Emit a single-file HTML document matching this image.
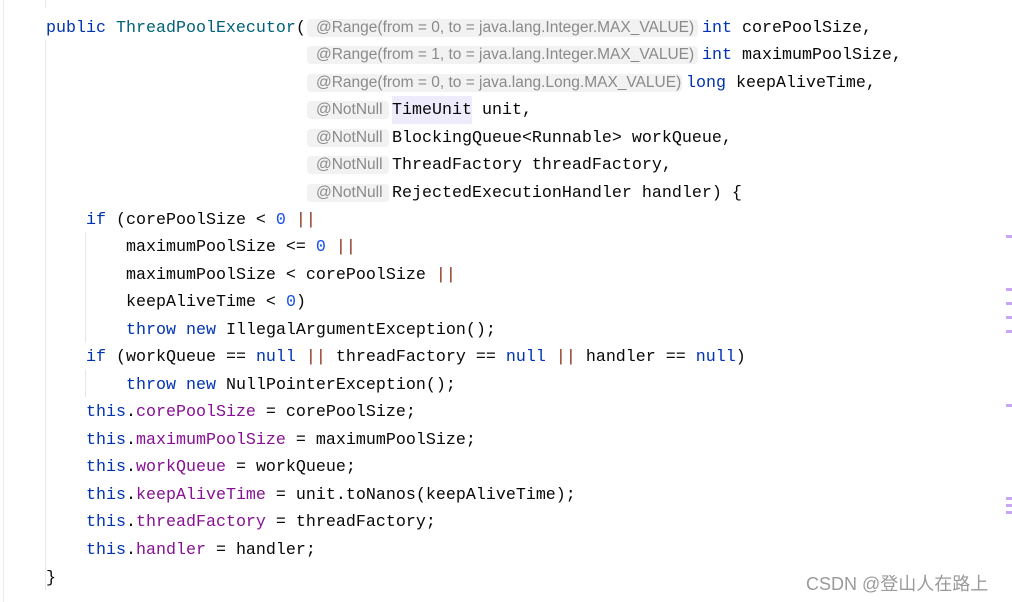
<!DOCTYPE html>
<html><head><meta charset="utf-8"><style>
body{margin:0;width:1012px;height:602px;background:#fff;position:relative;overflow:hidden}
.l{position:absolute;height:22px;line-height:22px;font-family:"Liberation Mono",monospace;font-size:16.67px;color:#080808;white-space:pre}
.k{color:#0033b3}.n{color:#1750eb}.f{color:#871094}.o{color:#8c2d17}.c{color:#00627a}
.p{position:absolute;left:307px;height:18px;line-height:18px;background:#f2f2f2;border-radius:4px;font-family:"Liberation Sans",sans-serif;font-size:15.5px;color:#8a8a8a;padding-left:9px;white-space:pre;overflow:hidden;box-sizing:border-box}
.g{position:absolute;width:1px;background:#e6e6e6}
.m{position:absolute;left:1006px;width:6px;height:3px;background:#c9a6f2}
</style></head><body>
<div class="g" style="left:3px;top:0;height:602px;background:#ececec"></div>
<div class="g" style="left:45px;top:0;height:8px"></div>
<div class="g" style="left:45px;top:40px;height:550px"></div>
<div class="g" style="left:85px;top:232px;height:110px"></div>
<div class="g" style="left:85px;top:370px;height:27px"></div>
<div style="position:absolute;left:392px;top:96px;width:80px;height:28px;background:#edebfc"></div>

<div class="l" style="left:46px;top:18px"><span class="k">public</span> <span class="c">ThreadPoolExecutor</span>(</div>
<div class="p" style="top:19px;width:391px">@Range(from = 0, to = java.lang.Integer.MAX_VALUE)</div>
<div class="l" style="left:702px;top:18px"><span class="k">int</span> corePoolSize,</div>
<div class="p" style="top:46px;width:391px">@Range(from = 1, to = java.lang.Integer.MAX_VALUE)</div>
<div class="l" style="left:702px;top:45px"><span class="k">int</span> maximumPoolSize,</div>
<div class="p" style="top:74px;width:375px">@Range(from = 0, to = java.lang.Long.MAX_VALUE)</div>
<div class="l" style="left:686px;top:73px"><span class="k">long</span> keepAliveTime,</div>
<div class="p" style="top:101px;width:82px">@NotNull</div>
<div class="l" style="left:392px;top:100px">TimeUnit unit,</div>
<div class="p" style="top:129px;width:82px">@NotNull</div>
<div class="l" style="left:392px;top:128px">BlockingQueue&lt;Runnable&gt; workQueue,</div>
<div class="p" style="top:156px;width:82px">@NotNull</div>
<div class="l" style="left:392px;top:155px">ThreadFactory threadFactory,</div>
<div class="p" style="top:184px;width:82px">@NotNull</div>
<div class="l" style="left:392px;top:183px">RejectedExecutionHandler handler) {</div>

<div class="l" style="left:86px;top:210px"><span class="k">if</span> (corePoolSize &lt; <span class="n">0</span> <span class="o">||</span></div>
<div class="l" style="left:126px;top:237px">maximumPoolSize &lt;= <span class="n">0</span> <span class="o">||</span></div>
<div class="l" style="left:126px;top:265px">maximumPoolSize &lt; corePoolSize <span class="o">||</span></div>
<div class="l" style="left:126px;top:292px">keepAliveTime &lt; <span class="n">0</span>)</div>
<div class="l" style="left:126px;top:320px"><span class="k">throw new</span> IllegalArgumentException();</div>
<div class="l" style="left:86px;top:347px"><span class="k">if</span> (workQueue == <span class="k">null</span> <span class="o">||</span> threadFactory == <span class="k">null</span> <span class="o">||</span> handler == <span class="k">null</span>)</div>
<div class="l" style="left:126px;top:375px"><span class="k">throw new</span> NullPointerException();</div>
<div class="l" style="left:86px;top:402px"><span class="k">this</span>.<span class="f">corePoolSize</span> = corePoolSize;</div>
<div class="l" style="left:86px;top:430px"><span class="k">this</span>.<span class="f">maximumPoolSize</span> = maximumPoolSize;</div>
<div class="l" style="left:86px;top:457px"><span class="k">this</span>.<span class="f">workQueue</span> = workQueue;</div>
<div class="l" style="left:86px;top:485px"><span class="k">this</span>.<span class="f">keepAliveTime</span> = unit.toNanos(keepAliveTime);</div>
<div class="l" style="left:86px;top:512px"><span class="k">this</span>.<span class="f">threadFactory</span> = threadFactory;</div>
<div class="l" style="left:86px;top:540px"><span class="k">this</span>.<span class="f">handler</span> = handler;</div>
<div class="l" style="left:46px;top:568px">}</div>

<div class="m" style="top:235px"></div>
<div class="m" style="top:288px"></div>
<div class="m" style="top:302px"></div>
<div class="m" style="top:316px"></div>
<div class="m" style="top:330px"></div>
<div class="m" style="top:404px"></div>
<div class="m" style="top:497px"></div>
<div class="m" style="top:504px"></div>
<div class="m" style="top:511px"></div>

<div style="position:absolute;left:806px;top:570px;font-family:'Liberation Sans','Noto Sans CJK SC',sans-serif;font-size:18px;color:#9a9a9a;white-space:nowrap">CSDN @登山人在路上</div>
</body></html>
